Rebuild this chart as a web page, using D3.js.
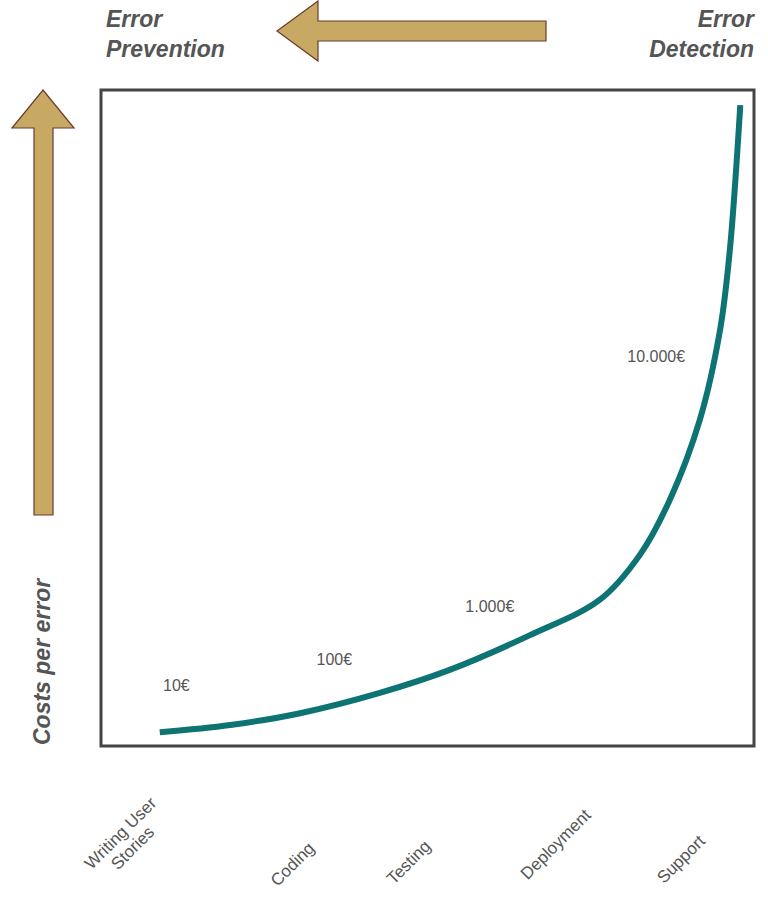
<!DOCTYPE html>
<html><head><meta charset="utf-8">
<script src="https://cdn.jsdelivr.net/npm/d3@7/dist/d3.min.js"></script>
<style>body{margin:0;background:#fff}text{font-family:Arial,"Liberation Sans",sans-serif}</style>
</head><body>
<svg id="c" width="768" height="911"></svg>
<script>
// curve of cost per error, in relative units (0..100 on each axis)
var curveX = [9.0, 19.8, 30.5, 42.7, 53.4, 65.7, 76.4, 82.5, 87.1, 91.7, 94.8, 96.3, 97.9];
var curveY = [2.1, 3.2, 5.0, 8.1, 11.6, 16.9, 22.3, 29.1, 37.5, 49.7, 63.4, 75.6, 97.7];
var costLabels = ["10€", "100€", "1.000€", "10.000€"];
var costX = [9.5, 33.0, 55.8, 80.6];
var costY = [8.4, 12.3, 20.4, 58.5];
var phases = [["Writing User", "Stories"], ["Coding"], ["Testing"], ["Deployment"], ["Support"]];
var phaseX = [8.0, 32.2, 50.0, 74.5, 92.0];

(function() {
  var svg = d3.select("#c");
  var pl = 101, pr = 754, pt = 90, pb = 746;
  var x = d3.scaleLinear().domain([0, 100]).range([pl, pr]);
  var y = d3.scaleLinear().domain([0, 100]).range([pb, pt]);
  var gold = "#c8a964", brown = "#6b3a2a", grey = "#555";

  svg.append("rect").attr("x", pl).attr("y", pt)
    .attr("width", pr - pl).attr("height", pb - pt)
    .attr("fill", "none").attr("stroke", "#444").attr("stroke-width", 3);

  var line = d3.line().x(function(d) { return x(d[0]); }).y(function(d) { return y(d[1]); })
    .curve(d3.curveCatmullRom);
  svg.append("path").datum(d3.zip(curveX, curveY)).attr("d", line)
    .attr("fill", "none").attr("stroke", "#0e7373").attr("stroke-width", 6);

  svg.selectAll("text.cost").data(costLabels).enter().append("text")
    .attr("class", "cost").attr("x", function(d, i) { return x(costX[i]); })
    .attr("y", function(d, i) { return y(costY[i]); })
    .attr("font-size", 16).attr("fill", grey).text(function(d) { return d; });

  // rotated phase labels, anchored at their top-right end
  var ends = [800, 845, 843, 812, 838];
  phases.forEach(function(p, i) {
    var t = svg.append("text")
      .attr("transform", "translate(" + x(phaseX[i]) + "," + ends[i] + ") rotate(-45)")
      .attr("text-anchor", "end").attr("font-size", 17).attr("fill", grey);
    p.forEach(function(s, j) {
      t.append("tspan").attr("x", j ? -22 : 0).attr("y", j * 19 + 6).text(s);
    });
  });

  // arrows
  svg.append("path").attr("d", "M546,21 L318,21 L318,1 L277,31 L318,61 L318,41 L546,41 Z")
    .attr("fill", gold).attr("stroke", brown).attr("stroke-width", 1.2);
  svg.append("path").attr("d", "M34,515 L34,128 L12,128 L43,90 L74,128 L53,128 L53,515 Z")
    .attr("fill", gold).attr("stroke", brown).attr("stroke-width", 1.2);

  function bold(tx, ty, s, anchor) {
    return svg.append("text").attr("x", tx).attr("y", ty).attr("text-anchor", anchor)
      .attr("font-size", 23).attr("font-weight", "bold").attr("font-style", "italic")
      .attr("fill", grey).text(s);
  }
  bold(106, 27, "Error", "start");
  bold(106, 57, "Prevention", "start");
  bold(754, 27, "Error", "end");
  bold(754, 57, "Detection", "end");
  bold(0, 0, "Costs per error", "start").attr("transform", "translate(50,745) rotate(-90)");
})();
</script>
</body></html>
